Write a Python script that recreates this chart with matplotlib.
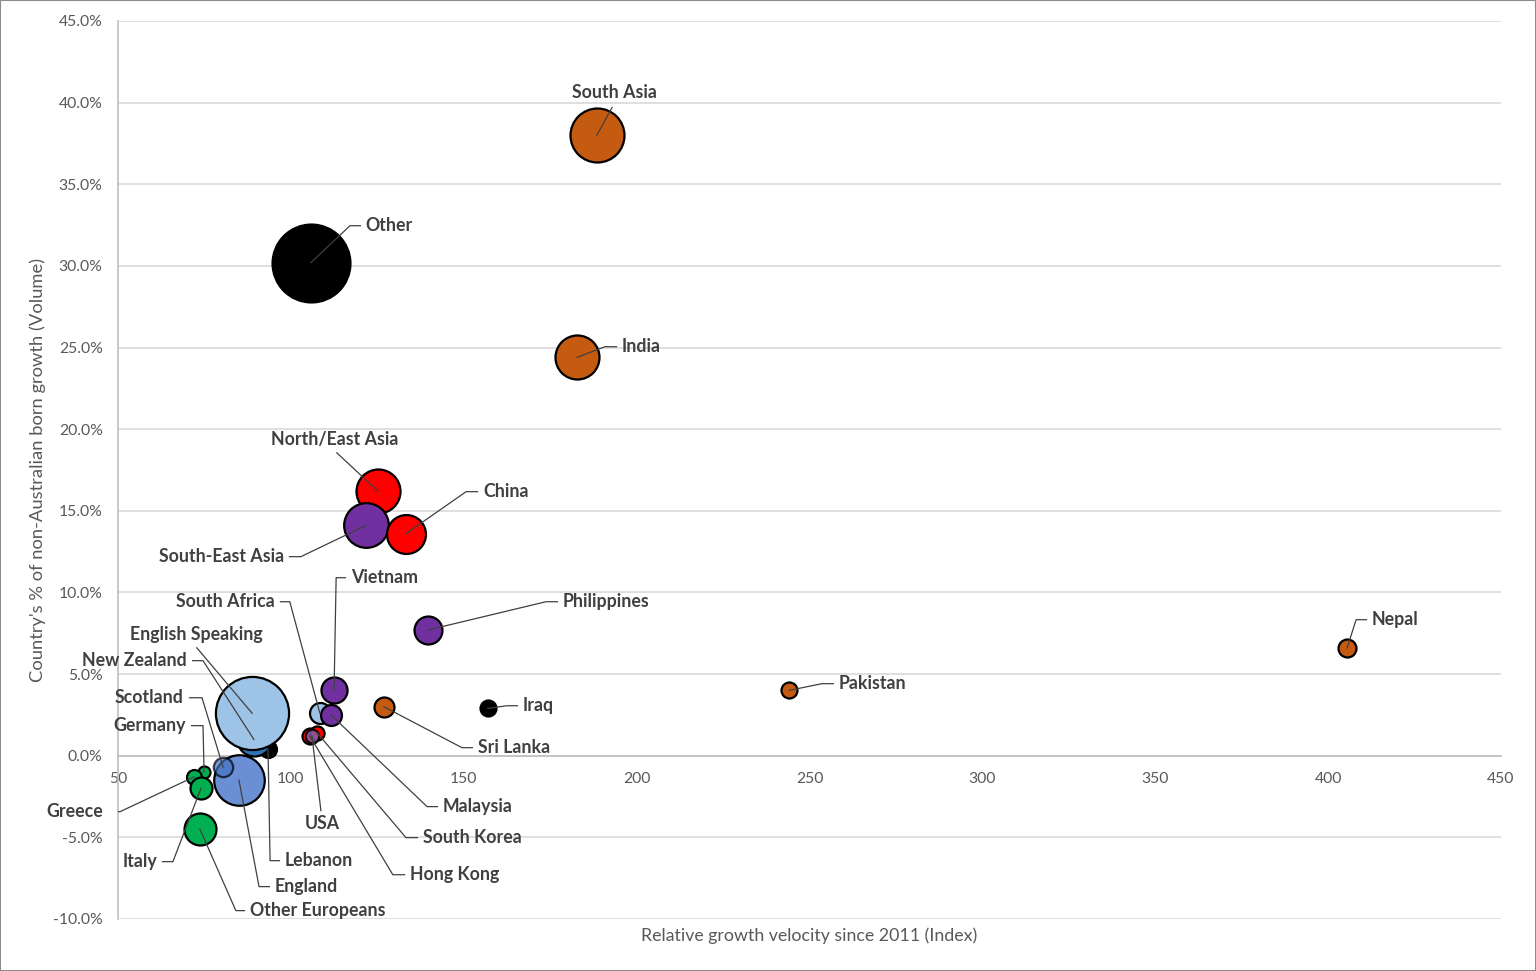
import matplotlib
matplotlib.use("Agg")
import matplotlib.pyplot as plt
from matplotlib.patches import Rectangle
from matplotlib.ticker import FuncFormatter, MultipleLocator

plt.rcParams['font.family'] = ['Lato', 'DejaVu Sans']

# data: name, growth velocity index, share of non-Australian born growth (%), bubble volume
names = ['Other', 'South Asia', 'India', 'North/East Asia', 'South-East Asia', 'China',
         'Philippines', 'Nepal', 'Pakistan', 'Iraq', 'Sri Lanka', 'Vietnam',
         'South Africa', 'Malaysia', 'Hong Kong', 'South Korea', 'USA', 'Lebanon',
         'New Zealand', 'English Speaking', 'England', 'Scotland', 'Germany',
         'Greece', 'Italy', 'Other Europeans']
velocity = [105.8, 188.5, 182.8, 125.2, 121.7, 133.3,
            139.7, 405.5, 244.1, 157.0, 126.9, 112.5,
            108.4, 111.6, 105.5, 107.6, 106.1, 93.4,
            89.3, 88.8, 85.0, 80.4, 74.9,
            72.0, 74.0, 73.7]
share = [30.2, 38.0, 24.4, 16.2, 14.1, 13.6,
         7.7, 6.6, 4.0, 2.9, 3.0, 4.0,
         2.6, 2.5, 1.2, 1.4, 1.2, 0.4,
         1.0, 2.6, -1.5, -0.7, -1.0,
         -1.3, -2.0, -4.5]
volume = [1520, 730, 485, 485, 500, 380,
          196, 81, 64, 64, 100, 170,
          110, 110, 64, 50, 45, 72,
          290, 1340, 640, 94, 36,
          56, 121, 256]
group = ['other', 'sasia', 'sasia', 'neasia', 'seasia', 'neasia',
         'seasia', 'sasia', 'sasia', 'other', 'sasia', 'seasia',
         'eng', 'seasia', 'neasia', 'neasia', 'usa', 'other',
         'nz', 'eng', 'england', 'scotland', 'europe',
         'europe', 'europe', 'europe']

colors = {'other': '#000000', 'sasia': '#C55A11', 'neasia': '#FF0000',
          'seasia': '#7030A0', 'eng': '#9DC3E6', 'nz': '#2E75B6',
          'england': '#6A8FD4', 'scotland': '#4472C4', 'europe': '#00B050',
          'usa': '#7F5FA8'}
alphas = {'scotland': 0.7, 'usa': 0.85}

# label placement: text x, text y, alignment, leader corner x, corner y
label_pos = {
    'South Asia': (193.5, 40.6, 'center', 192.9, 39.7),
    'Other': (121.7, 32.46, 'left', 117.1, 32.46),
    'India': (195.8, 25.05, 'left', 190.9, 25.05),
    'North/East Asia': (112.8, 19.35, 'center', 113.3, 18.55),
    'China': (155.6, 16.17, 'left', 150.7, 16.17),
    'South-East Asia': (98.0, 12.19, 'right', 102.9, 12.19),
    'Vietnam': (117.4, 10.9, 'left', 113.1, 10.9),
    'South Africa': (95.4, 9.43, 'right', 99.7, 9.43),
    'Philippines': (178.7, 9.43, 'left', 173.8, 9.43),
    'English Speaking': (72.8, 7.41, 'center', 72.8, 6.61),
    'New Zealand': (70.0, 5.82, 'right', 74.6, 5.82),
    'Nepal': (412.7, 8.33, 'left', 408.1, 8.33),
    'Pakistan': (258.5, 4.41, 'left', 253.6, 4.41),
    'Scotland': (69.1, 3.55, 'right', 74.3, 3.55),
    'Germany': (69.7, 1.84, 'right', 74.6, 1.84),
    'Iraq': (167.1, 3.06, 'left', 162.5, 3.06),
    'Sri Lanka': (154.1, 0.49, 'left', 149.5, 0.49),
    'Greece': (45.7, -3.43, 'right', 50.6, -3.43),
    'Malaysia': (144.0, -3.12, 'left', 139.4, -3.12),
    'USA': (109.0, -4.16, 'center', 108.7, -3.37),
    'South Korea': (138.2, -5.02, 'left', 133.3, -5.02),
    'Italy': (61.3, -6.49, 'right', 65.9, -6.49),
    'Lebanon': (98.3, -6.43, 'left', 94.0, -6.43),
    'Hong Kong': (134.5, -7.29, 'left', 129.5, -7.29),
    'England': (95.4, -8.02, 'left', 90.8, -8.02),
    'Other Europeans': (88.2, -9.49, 'left', 84.1, -9.49),
}

fig = plt.figure(figsize=(15.36, 9.71), dpi=100)
ax = fig.add_axes([0.0768, 0.0536, 0.9004, 0.9248])
fig.patches.append(Rectangle((0, 0), 1, 1, transform=fig.transFigure, fill=False,
                             edgecolor='#8c8c8c', linewidth=1.5, zorder=10))

ax.set_xlim(50, 450)
ax.set_ylim(-10, 45)
ax.yaxis.set_major_locator(MultipleLocator(5))
ax.xaxis.set_major_locator(MultipleLocator(50))
ax.yaxis.set_major_formatter(FuncFormatter(lambda v, p: f'{v:.1f}%'))
ax.grid(axis='y', color='#d9d9d9', linewidth=1.2, zorder=0)
ax.set_axisbelow(True)
for s in ['top', 'right']:
    ax.spines[s].set_visible(False)
ax.spines['bottom'].set_position(('data', 0))
ax.spines['bottom'].set_color('#bfbfbf')
ax.spines['left'].set_color('#bfbfbf')
ax.spines['bottom'].set_linewidth(1.2)
ax.spines['left'].set_linewidth(1.2)
ax.tick_params(length=0, labelsize=11.3, labelcolor='#595959')
ax.tick_params(axis='y', pad=11)
ax.tick_params(axis='x', pad=12)

for i, n in enumerate(names):
    g = group[i]
    ax.scatter(velocity[i], share[i], s=volume[i] * 2.07, color=colors[g],
               alpha=alphas.get(g, 1.0), edgecolor='black', linewidth=1.6, zorder=3 + i * 0.01)

for i, n in enumerate(names):
    tx, ty, ha, cx, cy = label_pos[n]
    if ha == 'center':
        ax.plot([velocity[i], cx], [share[i], cy], color='#404040', lw=0.9, zorder=5)
        ax.text(tx, ty, n, ha='center', va='center', fontsize=12.8, fontweight='bold',
                color='#404040', zorder=6)
    else:
        end = tx - 1.6 if ha == 'left' else tx + 1.6
        ax.plot([velocity[i], cx, end], [share[i], cy, ty], color='#404040', lw=0.9, zorder=5)
        ax.text(tx, ty, n, ha=ha, va='center', fontsize=12.8, fontweight='bold',
                color='#404040', zorder=6)

ax.set_xlabel('Relative growth velocity since 2011 (Index)', fontsize=12.8, color='#595959')
ax.xaxis.set_label_coords(0.5, -0.01)
ax.set_ylabel("Country's % of non-Australian born growth (Volume)", fontsize=13.2, color='#595959')
ax.yaxis.set_label_coords(-0.052, 0.5)

fig.savefig('out.png', dpi=100)
